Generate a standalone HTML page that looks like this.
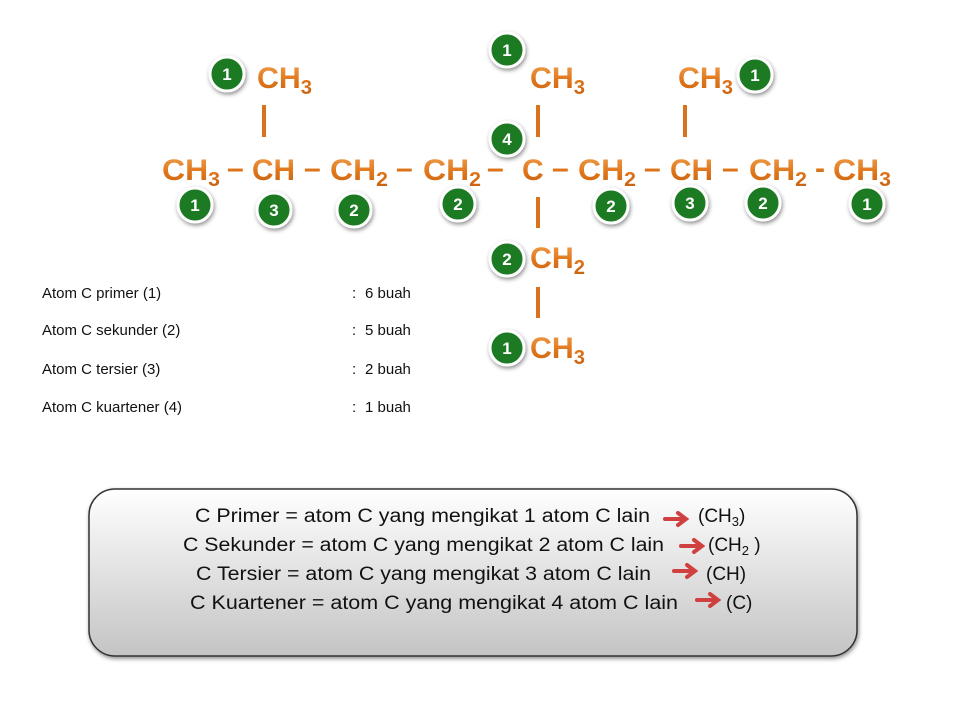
<!DOCTYPE html>
<html><head><meta charset="utf-8"><style>
html,body{margin:0;padding:0;background:#fff;width:960px;height:720px;overflow:hidden}
</style></head><body>
<svg width="960" height="720" xmlns="http://www.w3.org/2000/svg" font-family="Liberation Sans, sans-serif">
<defs>
<linearGradient id="og" x1="0" y1="0" x2="0" y2="1"><stop offset="0" stop-color="#f0a050"/><stop offset="0.5" stop-color="#e0761a"/><stop offset="1" stop-color="#c05e10"/></linearGradient>
<linearGradient id="bx" x1="0" y1="0" x2="0" y2="1"><stop offset="0" stop-color="#ffffff"/><stop offset="1" stop-color="#c4c4c4"/></linearGradient>
<filter id="sh" x="-50%" y="-50%" width="200%" height="200%"><feDropShadow dx="1" dy="2" stdDeviation="2" flood-color="#000" flood-opacity="0.45"/></filter>
</defs>
<g fill="url(#og)" font-weight="bold" font-size="30">
<text x="162" y="180" textLength="58" lengthAdjust="spacingAndGlyphs">CH<tspan font-size="20" dy="6">3</tspan></text>
<text x="227" y="178">–</text>
<text x="252" y="180" textLength="43" lengthAdjust="spacingAndGlyphs">CH</text>
<text x="304" y="178">–</text>
<text x="330" y="180" textLength="58" lengthAdjust="spacingAndGlyphs">CH<tspan font-size="20" dy="6">2</tspan></text>
<text x="396" y="178">–</text>
<text x="423" y="180" textLength="58" lengthAdjust="spacingAndGlyphs">CH<tspan font-size="20" dy="6">2</tspan></text>
<text x="487" y="178">–</text>
<text x="522" y="180">C</text>
<text x="552" y="178">–</text>
<text x="578" y="180" textLength="58" lengthAdjust="spacingAndGlyphs">CH<tspan font-size="20" dy="6">2</tspan></text>
<text x="644" y="178">–</text>
<text x="670" y="180" textLength="43" lengthAdjust="spacingAndGlyphs">CH</text>
<text x="722" y="178">–</text>
<text x="749" y="180" textLength="58" lengthAdjust="spacingAndGlyphs">CH<tspan font-size="20" dy="6">2</tspan></text>
<text x="815" y="178">-</text>
<text x="833" y="180" textLength="58" lengthAdjust="spacingAndGlyphs">CH<tspan font-size="20" dy="6">3</tspan></text>
<text x="257" y="88" textLength="55" lengthAdjust="spacingAndGlyphs">CH<tspan font-size="20" dy="6">3</tspan></text>
<text x="530" y="88" textLength="55" lengthAdjust="spacingAndGlyphs">CH<tspan font-size="20" dy="6">3</tspan></text>
<text x="678" y="88" textLength="55" lengthAdjust="spacingAndGlyphs">CH<tspan font-size="20" dy="6">3</tspan></text>
<text x="530" y="268" textLength="55" lengthAdjust="spacingAndGlyphs">CH<tspan font-size="20" dy="6">2</tspan></text>
<text x="530" y="358" textLength="55" lengthAdjust="spacingAndGlyphs">CH<tspan font-size="20" dy="6">3</tspan></text>
</g>
<g fill="#d9721c">
<rect x="262" y="105" width="4" height="32"/>
<rect x="536" y="105" width="4" height="32"/>
<rect x="683" y="105" width="4" height="32"/>
<rect x="536" y="197" width="4" height="31"/>
<rect x="536" y="287" width="4" height="31"/>
</g>
<g font-size="17" font-weight="bold" fill="#fff" text-anchor="middle">
<g filter="url(#sh)" fill="#1a7a22" stroke="#fff" stroke-width="3">
<circle cx="227" cy="74" r="17"/><circle cx="507" cy="50" r="17"/><circle cx="755" cy="75" r="17"/>
<circle cx="507" cy="139" r="17"/><circle cx="195" cy="205" r="17"/><circle cx="274" cy="210" r="17"/>
<circle cx="354" cy="210" r="17"/><circle cx="458" cy="204" r="17"/><circle cx="611" cy="206" r="17"/>
<circle cx="690" cy="203" r="17"/><circle cx="763" cy="203" r="17"/><circle cx="867" cy="204" r="17"/>
<circle cx="507" cy="259" r="17"/><circle cx="507" cy="348" r="17"/>
</g>
<text x="227" y="80">1</text><text x="507" y="56">1</text><text x="755" y="81">1</text>
<text x="507" y="145">4</text><text x="195" y="211">1</text><text x="274" y="216">3</text>
<text x="354" y="216">2</text><text x="458" y="210">2</text><text x="611" y="212">2</text>
<text x="690" y="209">3</text><text x="763" y="209">2</text><text x="867" y="210">1</text>
<text x="507" y="265">2</text><text x="507" y="354">1</text>
</g>
<g font-size="15" fill="#111" xml:space="preserve">
<text x="42" y="298">Atom C primer  (1)</text><text x="352" y="298">:</text><text x="365" y="298">6 buah</text>
<text x="42" y="335">Atom C sekunder  (2)</text><text x="352" y="335">:</text><text x="365" y="335">5 buah</text>
<text x="42" y="374">Atom C tersier  (3)</text><text x="352" y="374">:</text><text x="365" y="374">2 buah</text>
<text x="42" y="412">Atom C kuartener  (4)</text><text x="352" y="412">:</text><text x="365" y="412">1 buah</text>
</g>
<rect x="89" y="489" width="768" height="167" rx="26" fill="url(#bx)" stroke="#333" stroke-width="1.5" filter="url(#sh)"/>
<g font-size="19" fill="#111">
<text x="195" y="522" textLength="455" lengthAdjust="spacingAndGlyphs">C Primer = atom C yang mengikat 1 atom C lain</text>
<text x="698" y="522">(CH<tspan font-size="13" dy="4">3</tspan><tspan dy="-4">)</tspan></text>
<text x="183" y="551" textLength="481" lengthAdjust="spacingAndGlyphs">C Sekunder = atom C yang mengikat 2 atom C lain</text>
<text x="708" y="551">(CH<tspan font-size="13" dy="4">2</tspan><tspan dy="-4"> )</tspan></text>
<text x="196" y="580" textLength="455" lengthAdjust="spacingAndGlyphs">C Tersier = atom C yang mengikat 3 atom C lain</text>
<text x="706" y="580">(CH)</text>
<text x="190" y="609" textLength="488" lengthAdjust="spacingAndGlyphs">C Kuartener = atom C yang mengikat 4 atom C lain</text>
<text x="726" y="609">(C)</text>
</g>
<g stroke="#d04040" stroke-width="4" fill="none" stroke-linecap="round">
<path d="M665 519 H685 M678 513 L686 519 L678 525"/>
<path d="M681 546 H701 M694 540 L702 546 L694 552"/>
<path d="M674 571 H694 M687 565 L695 571 L687 577"/>
<path d="M697 600 H717 M710 594 L718 600 L710 606"/>
</g>
</svg>
</body></html>
